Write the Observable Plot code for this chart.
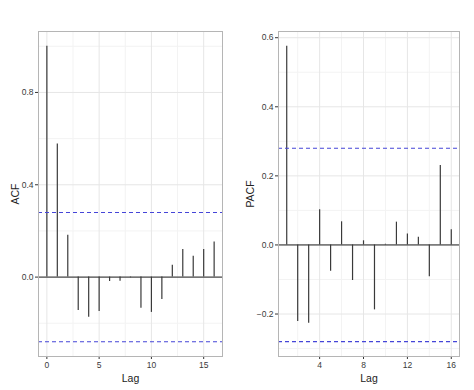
<!DOCTYPE html>
<html>
<head>
<meta charset="utf-8">
<script src="https://cdn.jsdelivr.net/npm/d3@7"></script>
<script src="https://cdn.jsdelivr.net/npm/@observablehq/plot@0.6"></script>
<style>
  html, body { margin: 0; padding: 0; background: #fff; }
  #wrap { display: flex; width: 474px; height: 390px; }
  svg { font-family: "Liberation Sans", Arial, sans-serif; }
</style>
</head>
<body>
<div id="wrap"></div>
<script>
// ACF panel data
const acfLags = [0, 1, 2, 3, 4, 5, 6, 7, 8, 9, 10, 11, 12, 13, 14, 15, 16];
const acfValues = [1.0, 0.577, 0.181, -0.145, -0.174, -0.149, -0.019, -0.018, -0.003, -0.135, -0.153, -0.097, 0.051, 0.12, 0.09, 0.12, 0.152];
// PACF panel data
const pacfLags = [1, 2, 3, 4, 5, 6, 7, 8, 9, 10, 11, 12, 13, 14, 15, 16];
const pacfValues = [0.575, -0.222, -0.227, 0.102, -0.076, 0.067, -0.103, 0.012, -0.188, 0.002, 0.066, 0.032, 0.022, -0.092, 0.23, 0.044];
// confidence bound
const confBound = 0.28;
// ticks
const acfXTicks = [0, 5, 10, 15];
const acfXMinor = [2.5, 7.5, 12.5];
const acfYTicks = [0.0, 0.4, 0.8];
const acfYMinor = [-0.2, 0.2, 0.6, 1.0];
const pacfXTicks = [4, 8, 12, 16];
const pacfXMinor = [2, 6, 10, 14];
const pacfYTicks = [-0.2, 0.0, 0.2, 0.4, 0.6];
const pacfYMinor = [-0.3, -0.1, 0.1, 0.3, 0.5];

function panel({lags, values, xDomain, yDomain, xTicks, xMinor, yTicks, yMinor, yLabel, marginLeft, yLabelOffset}) {
  const data = lags.map((l, i) => ({lag: l, value: values[i]}));
  return Plot.plot({
    width: 237,
    height: 390,
    marginLeft,
    marginRight: 15,
    marginTop: 31,
    marginBottom: 34,
    style: {fontSize: "8.5px", color: "#3a3a3a", background: "#fff"},
    x: {domain: xDomain},
    y: {domain: yDomain},
    marks: [
      Plot.gridX(xMinor, {stroke: "#f3f3f3", strokeOpacity: 1}),
      Plot.gridY(yMinor, {stroke: "#f3f3f3", strokeOpacity: 1}),
      Plot.gridX(xTicks, {stroke: "#e6e6e6", strokeOpacity: 1}),
      Plot.gridY(yTicks, {stroke: "#e6e6e6", strokeOpacity: 1}),
      Plot.axisX(xTicks, {tickSize: 3, tickPadding: 2, stroke: "#333", label: "Lag", labelAnchor: "center", labelArrow: "none", labelOffset: 25, fontSize: 8.5}),
      Plot.axisY(yTicks, {tickSize: 3, tickPadding: 2, stroke: "#333", tickFormat: d3.format(".1f"), label: yLabel, labelAnchor: "center", labelArrow: "none", labelOffset: yLabelOffset, fontSize: 8.5}),
      Plot.ruleY([0], {stroke: "#222", strokeWidth: 1}),
      Plot.ruleX(data, {x: "lag", y1: 0, y2: "value", stroke: "#3a3a3a", strokeWidth: 1.2}),
      Plot.ruleY([confBound, -confBound], {stroke: "#4545d8", strokeWidth: 1.1, strokeDasharray: "4,3"}),
      Plot.frame({stroke: "#b5b5b5"})
    ]
  });
}

const wrap = document.getElementById("wrap");
const left = panel({
  lags: acfLags, values: acfValues,
  xDomain: [-0.8, 16.8], yDomain: [-0.344, 1.064],
  xTicks: acfXTicks, xMinor: acfXMinor, yTicks: acfYTicks, yMinor: acfYMinor,
  yLabel: "ACF", marginLeft: 38, yLabelOffset: 27
});
const right = panel({
  lags: pacfLags, values: pacfValues,
  xDomain: [0.25, 16.75], yDomain: [-0.323, 0.618],
  xTicks: pacfXTicks, xMinor: pacfXMinor, yTicks: pacfYTicks, yMinor: pacfYMinor,
  yLabel: "PACF", marginLeft: 41, yLabelOffset: 32
});
wrap.appendChild(left);
wrap.appendChild(right);
// style axis titles larger
for (const svg of [left, right]) {
  svg.querySelectorAll("g[aria-label='x-axis label'] text, g[aria-label='y-axis label'] text").forEach(t => {
    t.setAttribute("font-size", "10.5");
    t.setAttribute("fill", "#222");
  });
}
</script>
</body>
</html>
